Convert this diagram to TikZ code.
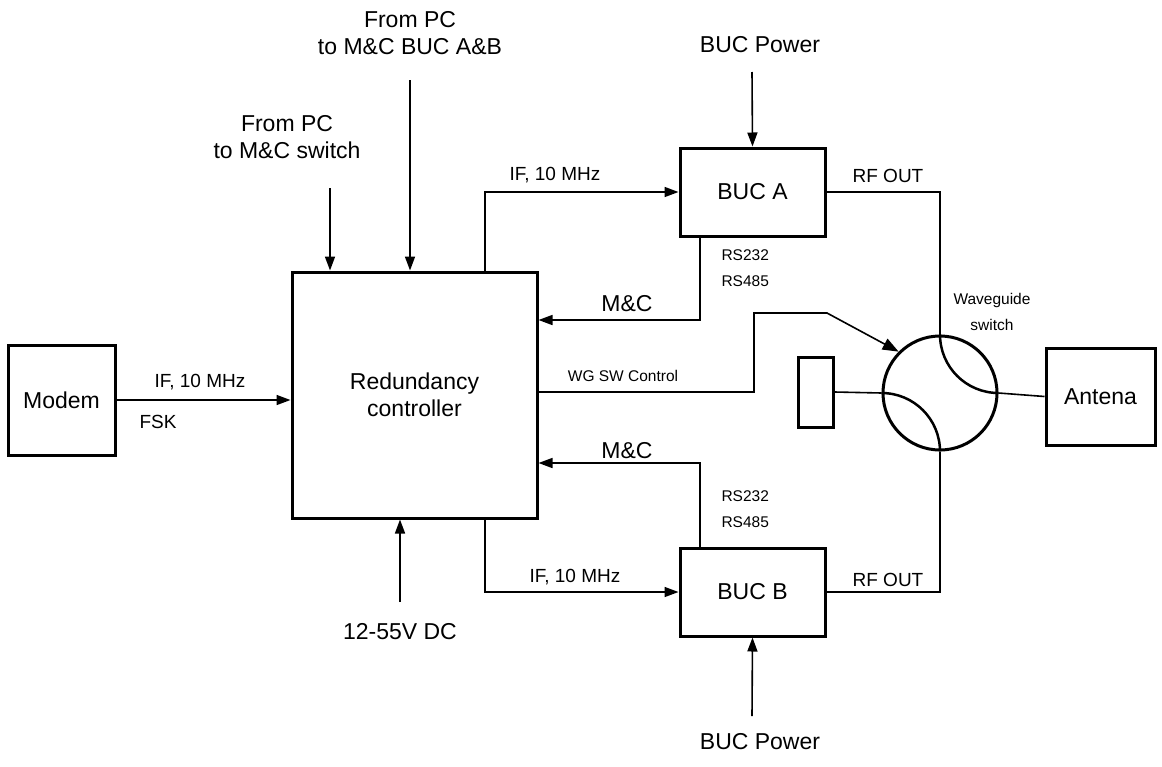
\documentclass[tikz,border=0pt]{standalone}
\usepackage{fontspec}
\setmainfont{Liberation Sans}
\usetikzlibrary{arrows.meta}
\begin{document}
\begin{tikzpicture}[x=1pt,y=-1pt,
  blk/.style={draw,line width=3pt,inner sep=0},
  ln/.style={line width=1.6pt},
  arr/.style={ln,-{Triangle[length=14pt,width=10pt]}},
  big/.style={font=\fontsize{23}{27}\selectfont,align=center},
  mid/.style={font=\fontsize{19}{22}\selectfont,align=center},
  sml/.style={font=\fontsize{15.5}{26}\selectfont,align=center}]
\useasboundingbox (0,0) rectangle (1162,766);
\node[blk,minimum width=107pt,minimum height=110pt,big] (modem) at (61.5,400) {Modem};
\node[blk,minimum width=245pt,minimum height=246pt,big] (ctrl) at (414.5,395) {Redundancy\\controller};
\node[blk,minimum width=145pt,minimum height=88pt,big] (bA) at (752.5,192) {BUC A};
\node[blk,minimum width=145pt,minimum height=88pt,big] (bB) at (752.5,592) {BUC B};
\node[blk,minimum width=109pt,minimum height=97pt,big] (ant) at (1100.5,396.5) {Antena};
\node[blk,minimum width=35pt,minimum height=70pt] (load) at (815.5,392) {};
\node[draw,circle,line width=3pt,minimum size=114pt,inner sep=0] (sw) at (940,393) {};
% arcs inside switch
\draw[line width=2.5pt] (sw.north) to[out=-90,in=180] (sw.east);
\draw[line width=2.5pt] (sw.west) to[out=0,in=90] (sw.south);
% modem
\draw[arr] (modem.east) -- (ctrl.west|-modem.east);
\node[mid] (l1) at (200,382) {IF, 10 MHz};
\node[mid] (l2) at (158,422) {FSK};
% top inputs
\node[big] (pc1) at (287,137) {From PC\\to M\&C switch};
\coordinate (c1) at (330,188);
\draw[arr] (c1) -- (c1|-ctrl.north);
\node[big] (pc2) at (410,33) {From PC\\to M\&C BUC A\&B};
\coordinate (c2) at (410,80);
\draw[arr] (c2) -- (c2|-ctrl.north);
\node[big] (dc) at (400,632) {12-55V DC};
\coordinate (c3) at (400,602);
\draw[arr] (c3) -- (c3|-ctrl.south);
% IF to BUCs
\draw[arr] (485,272) |- (bA.west);
\node[mid] (l3) at (555,175) {IF, 10 MHz};
\draw[arr] (485,518) |- (bB.west);
\node[mid] (l4) at (575,577) {IF, 10 MHz};
% M&C
\draw[arr] (700,236) |- (ctrl.east|-0,320);
\node[big] (m1) at (627,304) {M\&C};
\node[sml,align=left,anchor=west] (rs1) at (718,268) {RS232\\RS485};
\draw[arr] (700,548) |- (ctrl.east|-0,463);
\node[big] (m2) at (627,451) {M\&C};
\node[sml,align=left,anchor=west] (rs2) at (718,509) {RS232\\RS485};
% BUC power
\node[big] (p1) at (760,45) {BUC Power};
\coordinate (c4) at (752,72);
\draw[arr] (c4) -- (bA.north);
\node[big] (p2) at (760,742) {BUC Power};
\coordinate (c5) at (752,716);
\draw[arr] (c5) -- (bB.south);
% RF out
\draw[ln] (bA.east) -| (sw.north);
\node[mid] (r1) at (888,176) {RF OUT};
\draw[ln] (bB.east) -| (sw.south);
\node[mid] (r2) at (888,580) {RF OUT};
\draw[ln] (load.east) -- (sw.west);
\draw[ln] (sw.east) -- (ant.west);
\node[sml,align=center] (wg) at (992,312) {Waveguide\\switch};
% WG SW control
\draw[ln,-{Triangle[length=16pt,width=12pt]}] (ctrl.east|-0,392) -- (754,392) -- (754,313) -- (827,313) -- (sw.135);
\node[sml] (wl) at (623,376) {WG SW Control};
\end{tikzpicture}
\end{document}
